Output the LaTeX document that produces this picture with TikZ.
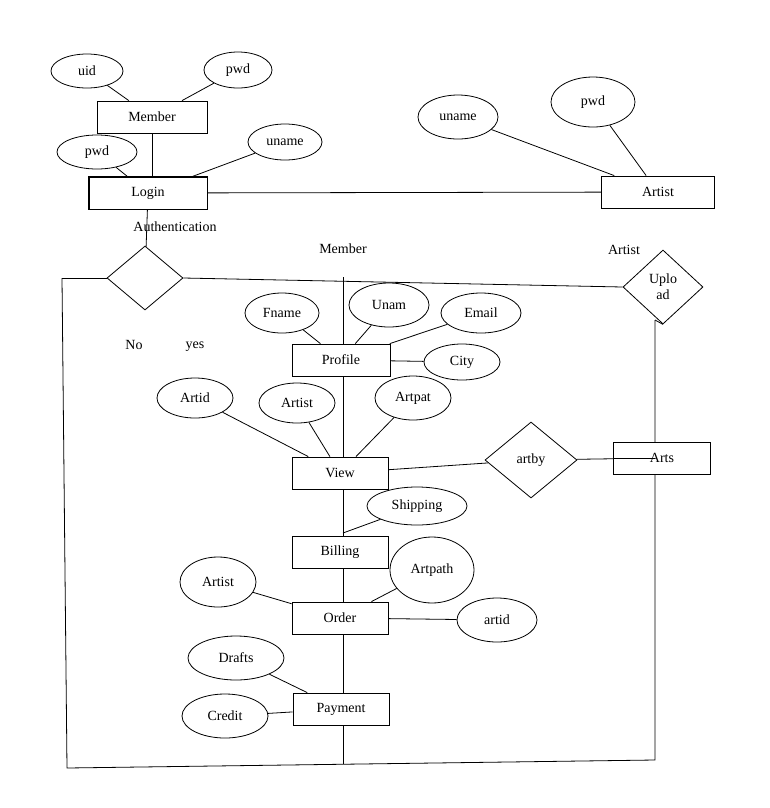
\documentclass[tikz,border=0pt]{standalone}
\usepackage{fontspec}
\setmainfont{Liberation Serif}
\usetikzlibrary{shapes.geometric}
\begin{document}
\begin{tikzpicture}[x=0.75pt,y=-0.75pt,font=\fontsize{10.5}{12}\selectfont,
 ent/.style={draw,fill=white,minimum width=#1*0.75pt,minimum height=24pt,inner sep=0pt},
 ent/.default=96,
 att/.style args={#1/#2}{draw,fill=white,ellipse,minimum width=#1*1.5pt,minimum height=#2*1.5pt,inner sep=0pt},
 rel/.style args={#1/#2}{draw,fill=white,diamond,minimum width=#1*1.5pt,minimum height=#2*1.5pt,inner sep=0pt,align=center},
 every path/.style={line width=0.6pt}]
\useasboundingbox (0,0) rectangle (769,808);
% frame
\coordinate (f1) at (62,278); \coordinate (f2) at (67,768); \coordinate (f3) at (655,760);
\coordinate (f4) at (655,320); \coordinate (top) at (343,277); \coordinate (bot) at (343,764);
\coordinate (sp) at (343,533); \coordinate (ar) at (655,458);
% top part
\node[ent=110] (member) at (152,117) {Member};
\node[ent=118] (login) at (148,193) {Login};
\node[ent=113] (artist) at (658,192) {Artist};
\draw (member) -- (login.north-|member.south);
\node[att=36/17] (uid) at (87,71) {uid};
\node[att=34/18] (pwd1) at (238,70) {pwd};
\node[att=37/18] (uname1) at (285,142) {uname};
\node[att=40/22] (uname2) at (458,117) {uname};
\node[att=42/25] (pwd3) at (593,102) {pwd};
\draw (uid) -- (member); \draw (pwd1) -- (member);
\draw (uname1) -- (login); \draw (login) -- (artist);
\draw (uname2) -- (artist); \draw (pwd3) -- (artist);
\node[att=40/17] (pwd2) at (97,152) {pwd};
\draw (pwd2) -- (login);
\node[fill=white,inner sep=1pt] at (148,193) {Login};
\draw (login.north west) rectangle (login.south east);
\node (authl) at (175,227) {Authentication};
\node (meml) at (343,249) {Member};
\node (artl) at (624,250) {Artist};
\node[rel=38/32] (auth) at (145,278) {};
\node[rel=40/37] (up) at (663,287) {Uplo\\ad};
\draw (login) -- (auth);
\draw (f1) -- (auth.west); \draw (auth.east) -- (up.west);
\draw (f1) -- (f2) -- (f3) -- (f4); \draw (up.south) -- (f4);
\node (no) at (134,345) {No}; \node (yes) at (195,347) {yes};
% spine
\draw (top) -- (bot);
\node[ent=98] (profile) at (341,360) {Profile};
\node[ent] (view) at (340,473) {View};
\node[ent] (billing) at (340,552) {Billing};
\node[ent] (order) at (340,618) {Order};
\node[ent] (payment) at (341,709) {Payment};
\node[att=37/20] (fname) at (282,313) {Fname};
\node[att=40/22] (unam) at (389,305) {Unam};
\node[att=40/20] (email) at (481,313) {Email};
\node[att=38/18] (city) at (462,362) {City};
\draw (fname) -- (profile); \draw (unam) -- (profile);
\draw (email) -- (profile); \draw (city) -- (profile);
\node[att=38/20] (artid1) at (195,398) {Artid};
\node[att=38/20] (artist2) at (297,403) {Artist};
\node[att=38/22] (artpat) at (413,398) {Artpat};
\draw (artid1) -- (view); \draw (artist2) -- (view); \draw (artpat) -- (view);
\node[rel=46/38] (artby) at (531,460) {artby};
\node[ent=97] (arts) at (662,458) {Arts};
\draw (view) -- (artby); \draw (artby) -- (arts); \draw (arts) -- (ar);
\node[att=50/19] (ship) at (417,506) {Shipping};
\draw (ship) -- (sp);
\node[att=42/33] (artpath) at (432,570) {Artpath};
\node[att=38/25] (artist3) at (218,582) {Artist};
\node[att=40/22] (artid2) at (497,620) {artid};
\draw (artpath) -- (order); \draw (artist3) -- (order); \draw (artid2) -- (order);
\node[att=48/22] (drafts) at (236,658) {Drafts};
\node[att=43/22] (credit) at (225,716) {Credit};
\draw (drafts) -- (payment); \draw (credit) -- (payment);
\end{tikzpicture}
\end{document}
